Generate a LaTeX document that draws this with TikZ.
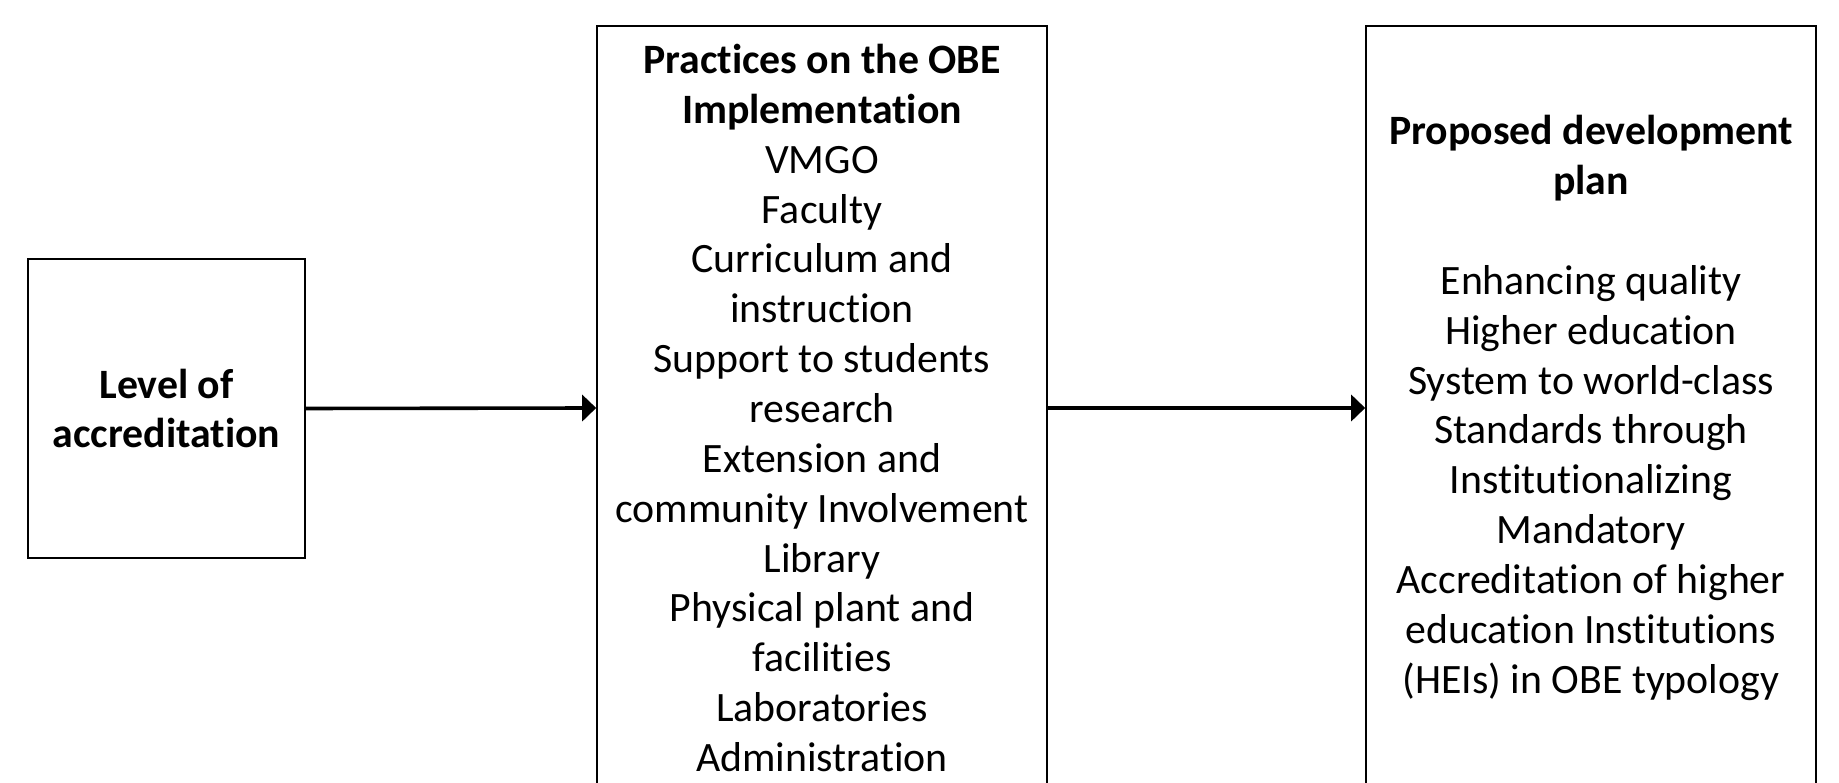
\documentclass[tikz,border=0pt]{standalone}
\usepackage{fontspec}
\setmainfont[Ligatures=NoCommon]{Carlito}
\usetikzlibrary{arrows.meta}
\begin{document}
\begin{tikzpicture}[x=1pt,y=1pt,
  box/.style={draw=black,line width=1.6pt,align=center,inner sep=0pt,
    font=\fontsize{41.8}{49.85}\selectfont},
  conn/.style={line width=3.6pt,-{Triangle[length=14pt,width=26pt]}}]
\useasboundingbox (0,0) rectangle (1839,782);
\clip (0,0) rectangle (1839,782);
\node[box,minimum width=277pt,minimum height=299pt] (lvl) at (166.5,373.5)
  {\textbf{Level of}\\\textbf{accreditation}};
\node[box,minimum width=450pt,minimum height=764pt] (prac) at (822,374)
  {\textbf{Practices on the OBE}\\\textbf{Implementation}\\VMGO\\Faculty\\Curriculum and\\instruction\\Support to students\\research\\Extension and\\community Involvement\\Library\\Physical plant and\\facilities\\Laboratories\\Administration};
\node[box,minimum width=450pt,minimum height=764pt] (plan) at (1591,374)
  {\textbf{Proposed development}\\\textbf{plan}\\[49.85pt]Enhancing quality\\Higher education\\System to world-class\\Standards through\\Institutionalizing\\Mandatory\\Accreditation of higher\\education Institutions\\(HEIs) in OBE typology};
\draw[conn] (lvl.east) -- (prac.west);
\draw[conn] (prac.east) -- (plan.west);
\end{tikzpicture}
\end{document}
